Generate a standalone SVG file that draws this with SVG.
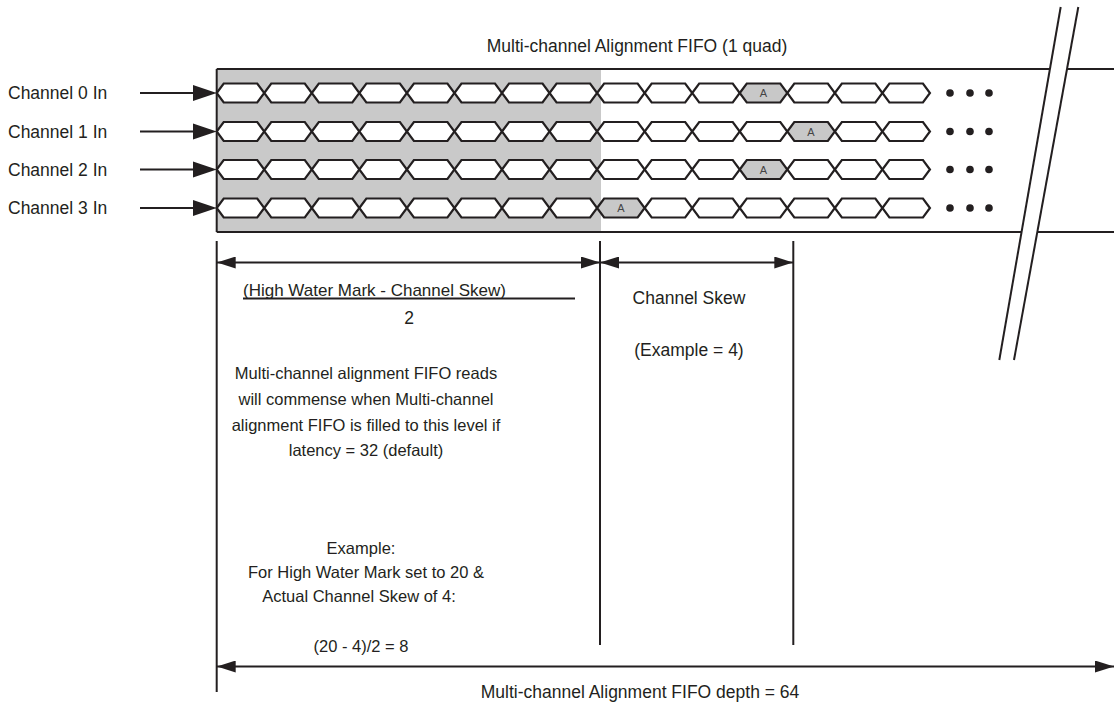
<svg xmlns="http://www.w3.org/2000/svg" width="1114" height="721" viewBox="0 0 1114 721">
<style>
text{font-family:"Liberation Sans",Arial,sans-serif;font-size:17.5px;fill:#231f20}
.ln{stroke:#231f20;stroke-width:2;fill:none}
.hex{fill:#fff;stroke:#231f20;stroke-width:2.2;stroke-linejoin:miter}
.hexA{fill:#c8c8c8;stroke:#231f20;stroke-width:2.2}
.a{font-size:11px;fill:#444;text-anchor:middle}
.ah{fill:#231f20}
.c{text-anchor:middle}
.s{font-size:16.5px}
</style>
<defs>
<path id="h" d="M0,0 L7,-9.5 L40.55,-9.5 L47.55,0 L40.55,9.5 L7,9.5 Z"/>
<marker id="arr" markerWidth="19" markerHeight="12" refX="19" refY="6" orient="auto-start-reverse" markerUnits="userSpaceOnUse"><path d="M0,0 L19,6 L0,12 Z" fill="#231f20"/></marker>
</defs>
<rect width="1114" height="721" fill="#fff"/>
<g id="fifo">
<rect x="216.7" y="69" width="384.3" height="163" fill="#c9c9c9"/>
<line class="ln" x1="216.7" y1="69" x2="1114" y2="69"/>
<line class="ln" x1="216.7" y1="232" x2="1114" y2="232"/>
<line class="ln" x1="216.7" y1="69" x2="216.7" y2="232"/>
<text x="637" y="52" class="c">Multi-channel Alignment FIFO (1 quad)</text>
</g>
<g id="break">
<polygon points="1060.7,7 1078.3,7 1014,360 999.3,360" fill="#fff"/>
<line class="ln" x1="1060.7" y1="7" x2="999.3" y2="360"/>
<line class="ln" x1="1078.3" y1="7" x2="1014" y2="360"/>
</g>
<g id="channel0">
<text x="8" y="99">Channel 0 In</text>
<g class="hex">
<use href="#h" x="216.7" y="93"/><use href="#h" x="264.25" y="93"/><use href="#h" x="311.8" y="93"/><use href="#h" x="359.35" y="93"/><use href="#h" x="406.9" y="93"/><use href="#h" x="454.45" y="93"/><use href="#h" x="502" y="93"/><use href="#h" x="549.55" y="93"/><use href="#h" x="597.1" y="93"/><use href="#h" x="644.65" y="93"/><use href="#h" x="692.2" y="93"/><use href="#h" x="787.3" y="93"/><use href="#h" x="834.85" y="93"/><use href="#h" x="882.4" y="93"/>
</g>
<use href="#h" class="hexA" x="739.75" y="93"/><text class="a" x="763.5" y="97">A</text>
<circle cx="950" cy="93" r="3.8" class="ah"/><circle cx="970" cy="93" r="3.8" class="ah"/><circle cx="989" cy="93" r="3.8" class="ah"/>
</g>
<g id="channel1">
<text x="8" y="137.5">Channel 1 In</text>
<g class="hex">
<use href="#h" x="216.7" y="131.5"/><use href="#h" x="264.25" y="131.5"/><use href="#h" x="311.8" y="131.5"/><use href="#h" x="359.35" y="131.5"/><use href="#h" x="406.9" y="131.5"/><use href="#h" x="454.45" y="131.5"/><use href="#h" x="502" y="131.5"/><use href="#h" x="549.55" y="131.5"/><use href="#h" x="597.1" y="131.5"/><use href="#h" x="644.65" y="131.5"/><use href="#h" x="692.2" y="131.5"/><use href="#h" x="739.75" y="131.5"/><use href="#h" x="834.85" y="131.5"/><use href="#h" x="882.4" y="131.5"/>
</g>
<use href="#h" class="hexA" x="787.3" y="131.5"/><text class="a" x="811" y="135.5">A</text>
<circle cx="950" cy="131.5" r="3.8" class="ah"/><circle cx="970" cy="131.5" r="3.8" class="ah"/><circle cx="989" cy="131.5" r="3.8" class="ah"/>
</g>
<g id="channel2">
<text x="8" y="175.5">Channel 2 In</text>
<g class="hex">
<use href="#h" x="216.7" y="169.5"/><use href="#h" x="264.25" y="169.5"/><use href="#h" x="311.8" y="169.5"/><use href="#h" x="359.35" y="169.5"/><use href="#h" x="406.9" y="169.5"/><use href="#h" x="454.45" y="169.5"/><use href="#h" x="502" y="169.5"/><use href="#h" x="549.55" y="169.5"/><use href="#h" x="597.1" y="169.5"/><use href="#h" x="644.65" y="169.5"/><use href="#h" x="692.2" y="169.5"/><use href="#h" x="787.3" y="169.5"/><use href="#h" x="834.85" y="169.5"/><use href="#h" x="882.4" y="169.5"/>
</g>
<use href="#h" class="hexA" x="739.75" y="169.5"/><text class="a" x="763.5" y="173.5">A</text>
<circle cx="950" cy="169.5" r="3.8" class="ah"/><circle cx="970" cy="169.5" r="3.8" class="ah"/><circle cx="989" cy="169.5" r="3.8" class="ah"/>
</g>
<g id="channel3">
<text x="8" y="214">Channel 3 In</text>
<g class="hex">
<use href="#h" x="216.7" y="208"/><use href="#h" x="264.25" y="208"/><use href="#h" x="311.8" y="208"/><use href="#h" x="359.35" y="208"/><use href="#h" x="406.9" y="208"/><use href="#h" x="454.45" y="208"/><use href="#h" x="502" y="208"/><use href="#h" x="549.55" y="208"/><use href="#h" x="644.65" y="208"/><use href="#h" x="692.2" y="208"/><use href="#h" x="739.75" y="208"/><use href="#h" x="787.3" y="208"/><use href="#h" x="834.85" y="208"/><use href="#h" x="882.4" y="208"/>
</g>
<use href="#h" class="hexA" x="597.1" y="208"/><text class="a" x="621" y="212">A</text>
<circle cx="950" cy="208" r="3.8" class="ah"/><circle cx="970" cy="208" r="3.8" class="ah"/><circle cx="989" cy="208" r="3.8" class="ah"/>
</g>
<g id="connectors">
<line class="ln" x1="140" y1="93" x2="200" y2="93"/><polygon class="ah" points="193,85 216.7,93 193,101"/>
<line class="ln" x1="140" y1="131.5" x2="200" y2="131.5"/><polygon class="ah" points="193,123.5 216.7,131.5 193,139.5"/>
<line class="ln" x1="140" y1="169.5" x2="200" y2="169.5"/><polygon class="ah" points="193,161.5 216.7,169.5 193,177.5"/>
<line class="ln" x1="140" y1="208" x2="200" y2="208"/><polygon class="ah" points="193,200 216.7,208 193,216"/>
<line class="ln" x1="216.7" y1="241" x2="216.7" y2="692"/>
<line class="ln" x1="600" y1="241" x2="600" y2="645"/>
<line class="ln" x1="793.3" y1="241" x2="793.3" y2="645"/>
<line class="ln" x1="216.7" y1="262.5" x2="600" y2="262.5" marker-start="url(#arr)" marker-end="url(#arr)"/>
<line class="ln" x1="600" y1="262.5" x2="793.3" y2="262.5" marker-start="url(#arr)" marker-end="url(#arr)"/>
<line class="ln" x1="216.7" y1="666.5" x2="1114" y2="666.5" marker-start="url(#arr)" marker-end="url(#arr)"/>
</g>
<g id="labels">
<text x="243" y="296" style="font-size:17px">(High Water Mark - Channel Skew)</text>
<line class="ln" x1="243" y1="298.5" x2="575" y2="298.5"/>
<text x="409" y="324" class="c">2</text>
<text x="689" y="304" class="c">Channel Skew</text>
<text x="689" y="356" class="c">(Example = 4)</text>
<text x="366" y="379" class="c s">Multi-channel alignment FIFO reads</text>
<text x="366" y="405" class="c s">will commense when Multi-channel</text>
<text x="366" y="431" class="c s">alignment FIFO is filled to this level if</text>
<text x="366" y="456" class="c s">latency = 32 (default)</text>
<text x="361" y="554" class="c s">Example:</text>
<text x="366" y="578" class="c s">For High Water Mark set to 20 &amp;</text>
<text x="359" y="602" class="c s">Actual Channel Skew of 4:</text>
<text x="361" y="652" class="c s">(20 - 4)/2 = 8</text>
<text x="640" y="698" class="c">Multi-channel Alignment FIFO depth = 64</text>
</g>
</svg>
